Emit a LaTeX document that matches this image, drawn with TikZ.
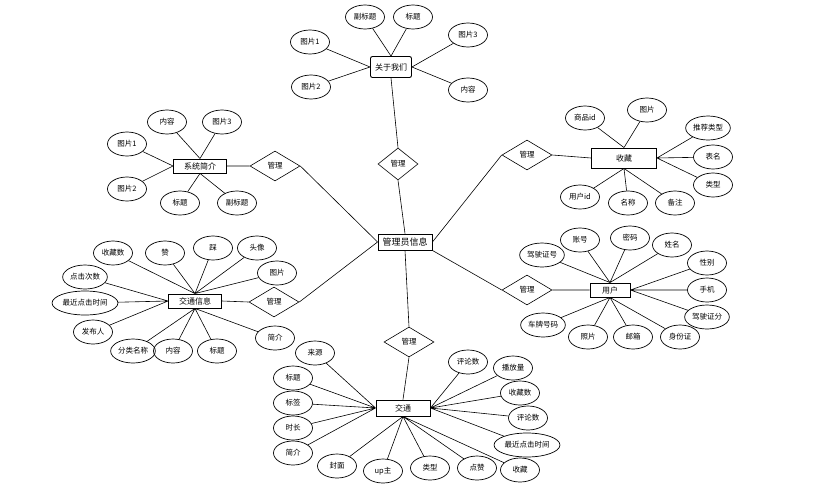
\documentclass[tikz,border=0pt]{standalone}
\usepackage{fontspec}
\setmainfont{Noto Sans CJK SC}
\usetikzlibrary{shapes.geometric}
\begin{document}
\begin{tikzpicture}[x=1pt,y=-1pt,
  font=\fontsize{7.5}{9}\selectfont,
  attr/.style={ellipse,draw,line width=0.7pt,minimum width=39pt,minimum height=24pt,inner sep=0.8pt},
  ent/.style={rectangle,draw,line width=0.9pt,minimum height=15pt,inner sep=2pt,font=\fontsize{8}{9}\selectfont},
  rel/.style={diamond,draw,line width=0.6pt,minimum width=50pt,minimum height=30pt,inner sep=0pt,aspect=1.6},
  ln/.style={draw,line width=0.6pt}]
\useasboundingbox (0,0) rectangle (830,491);

% central
\node[ent,minimum width=54pt,minimum height=16pt,inner sep=1pt,font=\fontsize{9}{10}\selectfont] (mgr) at (405,242) {管理员信息};

% 关于我们
\node[ent,rounded corners=2pt,minimum width=41pt,minimum height=21pt] (gy) at (391,67) {关于我们};
\node[attr] (gy1) at (365,17) {副标题};
\node[attr] (gy2) at (413,17) {标题};
\node[attr] (gy3) at (310,42) {图片1};
\node[attr] (gy4) at (468,35) {图片3};
\node[attr] (gy5) at (311,87) {图片2};
\node[attr] (gy6) at (468,90) {内容};
\node[rel,minimum width=40pt,minimum height=32pt] (r1) at (398,164) {管理};
\draw[ln] (gy1) -- (gy.north) (gy2) -- (gy.north);
\draw[ln] (gy3) -- (gy.west) (gy5) -- (gy.west);
\draw[ln] (gy4) -- (gy.east) (gy6) -- (gy.east);
\draw[ln] (gy.south) -- (r1.north) (r1.south) -- (mgr.north);

% 系统简介
\node[ent,minimum width=53pt,minimum height=14pt] (xt) at (200,166) {系统简介};
\node[attr] (xt1) at (167,122) {内容};
\node[attr] (xt2) at (222,122) {图片3};
\node[attr] (xt3) at (127,144) {图片1};
\node[attr] (xt4) at (127,189) {图片2};
\node[attr] (xt5) at (180,203) {标题};
\node[attr] (xt6) at (237,203) {副标题};
\node[rel] (r2) at (275,166) {管理};
\draw[ln] (xt1) -- (xt.north) (xt2) -- (xt.north);
\draw[ln] (xt3) -- (xt.west) (xt4) -- (xt.west);
\draw[ln] (xt5) -- (xt.south) (xt6) -- (xt.south);
\draw[ln] (xt.east) -- (r2.west) (r2.east) -- (mgr.west);

% 收藏
\node[ent,minimum width=65pt,minimum height=20pt] (sc) at (624,158) {收藏};
\node[attr] (sc1) at (585,118) {商品id};
\node[attr] (sc2) at (647,110) {图片};
\node[attr] (sc3) at (708,128) {推荐类型};
\node[attr] (sc4) at (713,157) {表名};
\node[attr] (sc5) at (713,185) {类型};
\node[attr] (sc6) at (580,197) {用户id};
\node[attr] (sc7) at (628,203) {名称};
\node[attr] (sc8) at (675,203) {备注};
\node[rel] (r3) at (527,155) {管理};
\draw[ln] (sc1) -- (sc.north) (sc2) -- (sc.north);
\draw[ln] (sc3) -- (sc.east) (sc4) -- (sc.east) (sc5) -- (sc.east);
\draw[ln] (sc6) -- (sc.south) (sc7) -- (sc.south) (sc8) -- (sc.south);
\draw[ln] (mgr.east) -- (r3.west) (r3.east) -- (sc.west);

% 用户
\node[ent,minimum width=40pt,minimum height=14pt] (yh) at (610,290) {用户};
\node[attr] (yh1) at (542,255) {驾驶证号};
\node[attr] (yh2) at (580,240) {账号};
\node[attr] (yh3) at (630,238) {密码};
\node[attr] (yh4) at (672,245) {姓名};
\node[attr] (yh5) at (707,263) {性别};
\node[attr] (yh6) at (707,290) {手机};
\node[attr] (yh7) at (707,317) {驾驶证分};
\node[attr] (yh8) at (680,337) {身份证};
\node[attr] (yh9) at (633,337) {邮箱};
\node[attr] (yh10) at (588,337) {照片};
\node[attr] (yh11) at (543,325) {车牌号码};
\node[rel] (r4) at (527,290) {管理};
\draw[ln] (yh1) -- (yh.north) (yh2) -- (yh.north) (yh3) -- (yh.north) (yh4) -- (yh.north);
\draw[ln] (yh5) -- (yh.east) (yh6) -- (yh.east) (yh7) -- (yh.east);
\draw[ln] (yh8) -- (yh.south) (yh9) -- (yh.south) (yh10) -- (yh.south) (yh11) -- (yh.south);
\draw[ln] (mgr.south east) -- (r4.west) (r4.east) -- (yh.west);

% 交通信息
\node[ent,minimum width=53pt,minimum height=14pt] (jx) at (195,301) {交通信息};
\node[attr] (jx1) at (113,253) {收藏数};
\node[attr] (jx2) at (165,253) {赞};
\node[attr] (jx3) at (213,248) {踩};
\node[attr] (jx4) at (257,248) {头像};
\node[attr] (jx5) at (277,273) {图片};
\node[attr] (jx6) at (85,277) {点击次数};
\node[attr] (jx7) at (85,303) {最近点击时间};
\node[attr] (jx8) at (93,332) {发布人};
\node[attr] (jx9) at (133,351) {分类名称};
\node[attr] (jx10) at (173,351) {内容};
\node[attr] (jx11) at (217,351) {标题};
\node[attr] (jx12) at (275,338) {简介};
\node[rel] (r5) at (274,302) {管理};
\draw[ln] (jx1) -- (jx.north) (jx2) -- (jx.north) (jx3) -- (jx.north) (jx4) -- (jx.north) (jx5) -- (jx.north);
\draw[ln] (jx6) -- (jx.west) (jx7) -- (jx.west) (jx8) -- (jx.west);
\draw[ln] (jx9) -- (jx.south) (jx10) -- (jx.south) (jx11) -- (jx.south) (jx12) -- (jx.south);
\draw[ln] (jx.east) -- (r5.west) (r5.east) -- (mgr.west);

% 交通
\node[rel] (r6) at (409,342) {管理};
\node[ent,minimum width=54pt,minimum height=16pt] (jt) at (403,408) {交通};
\node[attr] (jt1) at (315,353) {来源};
\node[attr] (jt2) at (293,378) {标题};
\node[attr] (jt3) at (293,403) {标签};
\node[attr] (jt4) at (293,428) {时长};
\node[attr] (jt5) at (293,453) {简介};
\node[attr] (jt6) at (337,466) {封面};
\node[attr] (jt7) at (383,471) {up主};
\node[attr] (jt8) at (430,468) {类型};
\node[attr] (jt9) at (477,468) {点赞};
\node[attr] (jt10) at (520,470) {收藏};
\node[attr] (jt11) at (468,362) {评论数};
\node[attr] (jt12) at (513,368) {播放量};
\node[attr] (jt13) at (520,393) {收藏数};
\node[attr] (jt14) at (528,418) {评论数};
\node[attr] (jt15) at (527,445) {最近点击时间};
\draw[ln] (mgr.south) -- (r6.north) (r6.south) -- (jt.north);
\draw[ln] (jt1) -- (jt.west) (jt2) -- (jt.west) (jt3) -- (jt.west) (jt4) -- (jt.west) (jt5) -- (jt.west);
\draw[ln] (jt6) -- (jt.south) (jt7) -- (jt.south) (jt8) -- (jt.south) (jt9) -- (jt.south) (jt10) -- (jt.south);
\draw[ln] (jt11) -- (jt.east) (jt12) -- (jt.east) (jt13) -- (jt.east) (jt14) -- (jt.east) (jt15) -- (jt.east);
\end{tikzpicture}
\end{document}
